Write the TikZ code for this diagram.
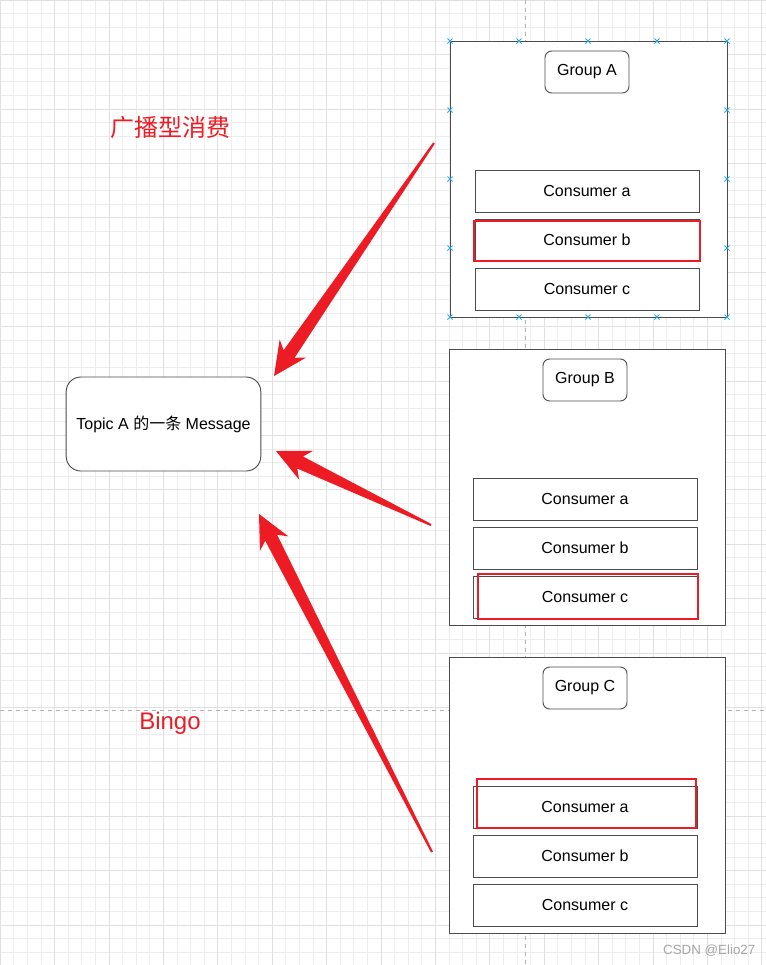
\documentclass[tikz,border=0pt]{standalone}
\usepackage{fontspec}
\setmainfont{Liberation Sans}
\newfontfamily\cjk{Noto Sans CJK SC}
\usetikzlibrary{calc}
\definecolor{rr}{HTML}{ED1C24}
\definecolor{selc}{HTML}{29A8E0}
\tikzset{
 frame/.style={draw=black!70,line width=0.7pt},
 cons/.style={draw=black!70,line width=0.7pt,font=\fontsize{12}{14}\selectfont},
 redbox/.style={draw=rr,line width=1.2pt},
 lbl/.style={draw=black!70,rounded corners=5pt,line width=0.7pt,font=\fontsize{12}{14}\selectfont},
}
\newcommand{\wedgearrow}[2]{%
 \fill[rr]
  ($(#1)!0.8pt!90:(#2)$) -- ($($(#2)!20pt!(#1)$)!5pt!-90:(#1)$) -- ($($(#2)!25pt!(#1)$)!12pt!-90:(#1)$) -- (#2)
  -- ($($(#2)!25pt!(#1)$)!12pt!90:(#1)$) -- ($($(#2)!20pt!(#1)$)!5pt!90:(#1)$) -- ($(#1)!0.8pt!-90:(#2)$) -- cycle;}
\begin{document}
\begin{tikzpicture}[x=0.75pt,y=-0.75pt]
\useasboundingbox (0,0) rectangle (766,965);
\fill[white] (0,0) rectangle (766,965);
\foreach \i in {0,...,57} {\draw[black!7,line width=0.4pt] (\i*13.6,0) -- (\i*13.6,965);}
\foreach \i in {0,...,71} {\draw[black!7,line width=0.4pt] (0,\i*13.6) -- (766,\i*13.6);}
\foreach \i in {0,...,14} {\draw[black!12,line width=0.4pt] (\i*54.4,0) -- (\i*54.4,965);}
\foreach \i in {0,...,18} {\draw[black!12,line width=0.4pt] (0,\i*54.4) -- (766,\i*54.4);}
\draw[black!30,dashed,line width=0.5pt] (525,0) -- (525,965);
\draw[black!30,dashed,line width=0.5pt] (0,710) -- (766,710);
% Group A
\draw[frame,fill=white] (450,41) rectangle (727,317);
\node[lbl,minimum width=63pt,minimum height=31.5pt] (ga) at (587,72) {Group A};
\node[cons,minimum width=168pt,minimum height=31.5pt] (aa) at (587,191) {Consumer a};
\node[cons,minimum width=168pt,minimum height=31.5pt] (ab) at (587,240) {Consumer b};
\node[cons,minimum width=168pt,minimum height=31.5pt] (ac) at (587,289) {Consumer c};
\draw[redbox] (474,221) rectangle (700,261);
\foreach \x/\y in {450/41,519/41,588/41,657/41,727/41,450/110,727/110,450/179,727/179,450/248,727/248,450/317,519/317,588/317,657/317,727/317}
 {\draw[selc,line width=0.6pt] (\x-2.5,\y-2.5) -- (\x+2.5,\y+2.5) (\x-2.5,\y+2.5) -- (\x+2.5,\y-2.5);}
% Group B
\draw[frame,fill=white] (449,349) rectangle (725,625);
\node[lbl,minimum width=63pt,minimum height=31.5pt] (gb) at (585,380) {Group B};
\node[cons,minimum width=168pt,minimum height=31.5pt] (ba) at (585,499) {Consumer a};
\node[cons,minimum width=168pt,minimum height=31.5pt] (bb) at (585,548) {Consumer b};
\node[cons,minimum width=168pt,minimum height=31.5pt] (bc) at (585,597) {Consumer c};
\draw[redbox] (478,574) rectangle (698,619);
% Group C
\draw[frame,fill=white] (449,657) rectangle (725,933);
\node[lbl,minimum width=63pt,minimum height=31.5pt] (gc) at (585,688) {Group C};
\node[cons,minimum width=168pt,minimum height=31.5pt] (ca) at (585,807) {Consumer a};
\node[cons,minimum width=168pt,minimum height=31.5pt] (cb) at (585,856) {Consumer b};
\node[cons,minimum width=168pt,minimum height=31.5pt] (cc) at (585,905) {Consumer c};
\draw[redbox] (477,779) rectangle (696,828);
% Topic
\node[draw=black!70,fill=white,rounded corners=11pt,line width=0.7pt,minimum width=146pt,minimum height=70.5pt,font=\fontsize{12}{14}\selectfont,inner sep=1pt] (topic) at (163.5,424) {Topic A {\cjk 的一条} Message};
\node[text=rr,font=\cjk\fontsize{18}{20}\selectfont] (t1) at (170,127) {广播型消费};
\node[text=rr,font=\fontsize{18}{20}\selectfont] (t2) at (170,723) {Bingo};
\node[text=black!35,font=\fontsize{10}{12}\selectfont,anchor=east] (wm) at (760,951) {CSDN @Elio27};
% arrows
\coordinate (s1) at (434,143); \coordinate (e1) at (274,376);
\coordinate (s2) at (431,525); \coordinate (e2) at (276,451);
\coordinate (s3) at (432,852); \coordinate (e3) at (259,514);
\wedgearrow{s1}{e1}
\wedgearrow{s2}{e2}
\wedgearrow{s3}{e3}
\end{tikzpicture}
\end{document}
